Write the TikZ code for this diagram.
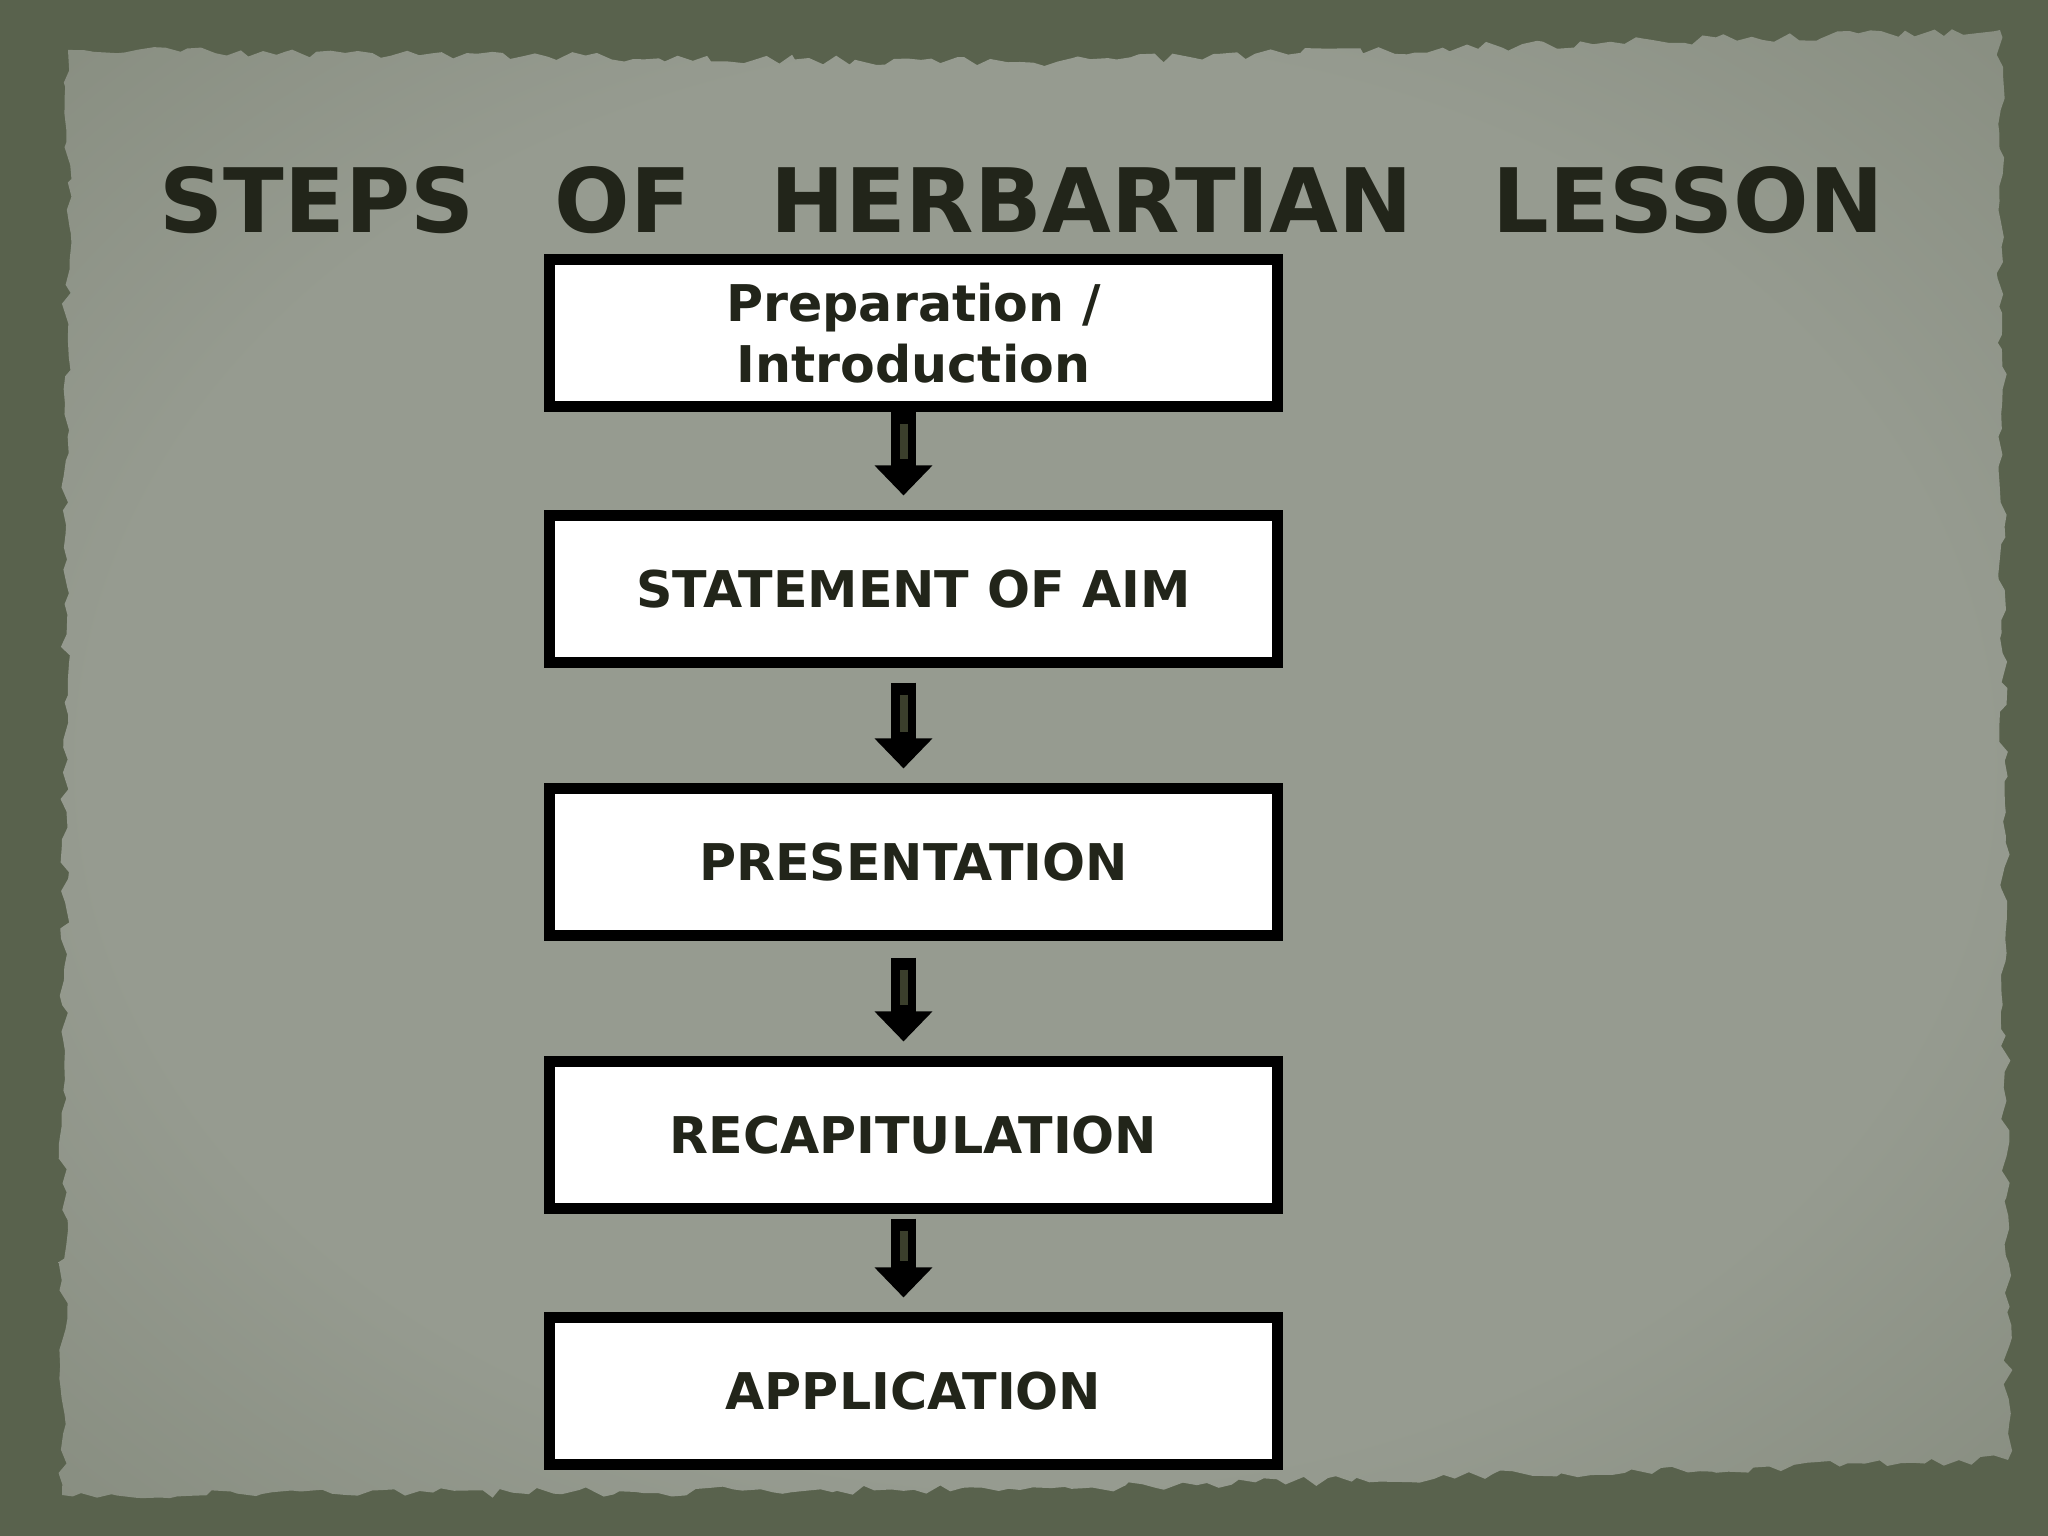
\documentclass[tikz,border=0pt]{standalone}
\usepackage{fontspec}
\newfontfamily\stepfont{DejaVu Sans}
\usetikzlibrary{calc,arrows.meta,decorations.pathmorphing}
\usepackage{xcolor}
\definecolor{mossedge}{HTML}{59624D}
\definecolor{paperlight}{HTML}{969B90}
\definecolor{paperdark}{HTML}{757C6C}
\definecolor{inkdark}{HTML}{22251A}
\definecolor{shaftolive}{HTML}{3B3F2C}
\pgfdeclareradialshading{paperglow}{\pgfpoint{0bp}{0bp}}{color(0bp)=(paperlight); color(24bp)=(paperlight); color(50bp)=(paperdark); color(72bp)=(paperdark)}

\tikzset{
  stepbox/.style={draw=black, line width=3pt, fill=white, minimum width=7.275cm, minimum height=1.465cm, inner sep=0pt, align=center, text=inkdark, font=\stepfont\bfseries\fontsize{14.4}{17.5}\selectfont},
  flowarrow/.style={draw=black, line width=0.25cm, -{Triangle[width=0.56cm,length=0.3cm]}, postaction={draw=shaftolive, line width=0.08cm, -, shorten >=0.36cm, shorten <=0.12cm}},
  torn/.style={decorate, decoration={random steps, segment length=0.12cm, amplitude=0.05cm}}
}

\begin{document}
\begin{tikzpicture}
\useasboundingbox (0,0) rectangle (20.48,-15.36);
\fill [mossedge] (0,0) rectangle (20.48,-15.36);
% torn paper sheet
\begin{scope}
\pgfmathsetseed{11}
\clip [torn] (0.68,-0.5) -- (10.2,-0.62) -- (20.0,-0.3) -- (20.08,-14.6) -- (10.2,-14.9) -- (0.62,-14.95) -- cycle;
\shade [shading=paperglow] (0.5,-0.2) rectangle (20.2,-15.1);
\end{scope}

\node [anchor=base, text=inkdark, font=\stepfont\bfseries\fontsize{25.3}{30}\selectfont] (title) at (10.22,-2.325) {STEPS\hspace{0.8cm}OF\hspace{0.8cm}HERBARTIAN\hspace{0.8cm}LESSON};

\node [stepbox] (prep) at (9.135,-3.33) {Preparation /\\Introduction};
\node [stepbox] (aim) at (9.135,-5.89) {STATEMENT OF AIM};
\node [stepbox] (pres) at (9.135,-8.62) {PRESENTATION};
\node [stepbox] (recap) at (9.135,-11.35) {RECAPITULATION};
\node [stepbox] (appl) at (9.135,-13.91) {APPLICATION};

\foreach \a/\b/\s in {prep/aim/0, aim/pres/0.15, pres/recap/0.17, recap/appl/0.05}
  \draw [flowarrow] ($(\a.south)+(-0.1,-\s)$) -- ($(\b.north)+(-0.1,0.15)$);
\end{tikzpicture}
\end{document}
